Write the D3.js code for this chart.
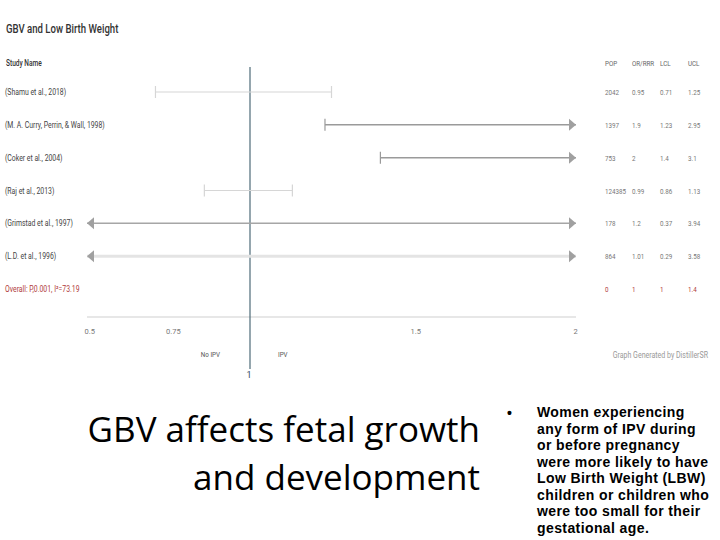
<!DOCTYPE html>
<html><head><meta charset="utf-8">
<script src="https://cdn.jsdelivr.net/npm/d3@7"></script>
<style>
html,body{margin:0;padding:0;background:#fff;}
svg{display:block;}
</style></head>
<body>
<script>
const studies = ["(Shamu et al., 2018)", "(M. A. Curry, Perrin, & Wall, 1998)", "(Coker et al., 2004)", "(Raj et al., 2013)", "(Grimstad et al., 1997)", "(L.D. et al., 1996)", "Overall: P,0.001, I\u00B2=73.19"];
const pop = ["2042", "1397", "753", "124385", "178", "864", "0"];
const orr = [0.95, 1.9, 2, 0.99, 1.2, 1.01, 1];
const lcl = [0.71, 1.23, 1.4, 0.86, 0.37, 0.29, 1];
const ucl = [1.25, 2.95, 3.1, 1.13, 3.94, 3.58, 1.4];
const xTicks = [0.5, 0.75, 1.5, 2];
const tickLabels = ["0.5", "0.75", "1.5", "2"];

const lineShade = ["#d6d6d6", "#9a9a9a", "#9a9a9a", "#d6d6d6", "#a6a6a6", "#e4e4e4", null];
const lineWidth = [1.2, 1.5, 1.5, 1.2, 1.5, 3, 0];

const W = 720, H = 540;
const svg = d3.select("body").append("svg").attr("width", W).attr("height", H);
const font = "Roboto, sans-serif";

const x = d3.scaleLinear().domain([0.5, 2]).range([87, 576]);
const y = d3.scalePoint().domain(d3.range(studies.length)).range([92, 289]);

// narrow text helper: draws text compressed horizontally
function ntext(xp, yp, str, size, fill, opts = {}) {
  const g = svg.append("g").attr("transform", `translate(${xp},${yp}) scale(0.8,1)`);
  const t = g.append("text").attr("x", 0).attr("y", 0).text(str)
    .attr("font-family", font).attr("font-size", size).attr("fill", fill);
  if (opts.anchor) t.attr("text-anchor", opts.anchor);
  if (opts.weight) t.attr("font-weight", opts.weight);
  return t;
}

// Title
ntext(6, 33, "GBV and Low Birth Weight", 12, "#333", {weight: 500});
ntext(6, 66, "Study Name", 8.2, "#333", {weight: 500});

// Column headers
const colX = [605, 632, 660, 688];
["POP", "OR/RRR", "LCL", "UCL"].forEach((h, i) => ntext(colX[i], 66, h, 7.8, "#666"));

// Axis line
svg.append("line").attr("x1", x(0.5)).attr("x2", x(2)).attr("y1", 317).attr("y2", 317)
  .attr("stroke", "#cfcfcf").attr("stroke-width", 1);
const axis = d3.axisBottom(x).tickValues(xTicks).tickSize(0).tickFormat((d, i) => tickLabels[i]);
const ag = svg.append("g").attr("transform", "translate(0,317)").call(axis);
ag.select(".domain").remove();
ag.selectAll(".tick text").attr("font-family", font).attr("font-size", 7.5).attr("fill", "#777")
  .attr("text-anchor", "start").attr("dy", 0).attr("y", 17).attr("x", -3);

// Vertical reference line at 1
svg.append("line").attr("x1", x(1)).attr("x2", x(1)).attr("y1", 67).attr("y2", 369)
  .attr("stroke", "#4d6b78").attr("stroke-width", 1.2);
svg.append("text").attr("x", x(1) - 1).attr("y", 378).attr("text-anchor", "middle").text("1")
  .attr("font-family", font).attr("font-size", 9).attr("fill", "#2f4a66");
ntext(x(1) - 30, 357, "No IPV", 7.8, "#555", {anchor: "end"});
ntext(x(1) + 28, 357, "IPV", 7.8, "#555");
ntext(708, 358, "Graph Generated by DistillerSR", 8.8, "#999", {anchor: "end"});

// Rows
studies.forEach((s, i) => {
  const yy = y(i);
  const isOverall = i === studies.length - 1;
  const col = isOverall ? "#b03a3a" : "#444";
  ntext(5, yy + 3, s, 8.6, col);
  const vals = [pop[i], String(orr[i]), String(lcl[i]), String(ucl[i])];
  vals.forEach((v, j) => ntext(colX[j], yy + 3, v, 7.8, isOverall ? "#b03a3a" : "#777"));
  if (isOverall) return;
  const lo = Math.max(lcl[i], 0.5), hi = Math.min(ucl[i], 2);
  const x1 = x(lo), x2 = x(hi);
  const shade = lineShade[i];
  svg.append("line").attr("x1", x1).attr("x2", x2).attr("y1", yy).attr("y2", yy)
    .attr("stroke", shade).attr("stroke-width", lineWidth[i]);
  const arrowCol = "#a0a0a0";
  if (lcl[i] < 0.5) {
    svg.append("path").attr("d", `M${x1},${yy} L${x1 + 7},${yy - 6} L${x1 + 7},${yy + 6} Z`).attr("fill", arrowCol);
  } else {
    svg.append("line").attr("x1", x1).attr("x2", x1).attr("y1", yy - 6).attr("y2", yy + 6)
      .attr("stroke", shade).attr("stroke-width", 1.2);
  }
  if (ucl[i] > 2) {
    svg.append("path").attr("d", `M${x2},${yy} L${x2 - 7},${yy - 6} L${x2 - 7},${yy + 6} Z`).attr("fill", arrowCol);
  } else {
    svg.append("line").attr("x1", x2).attr("x2", x2).attr("y1", yy - 6).attr("y2", yy + 6)
      .attr("stroke", shade).attr("stroke-width", 1.2);
  }
});

// Slide text
const bigFont = "'Open Sans','Noto Sans',sans-serif";
const big = svg.append("text").attr("font-family", bigFont).attr("font-size", 35).attr("fill", "#000").attr("text-anchor", "end");
big.append("tspan").attr("x", 480).attr("y", 442).text("GBV affects fetal growth");
big.append("tspan").attr("x", 480).attr("y", 490).text("and development");

svg.append("text").attr("x", 507).attr("y", 418).text("\u2022").attr("font-family", "'Liberation Sans',sans-serif").attr("font-size", 14).attr("font-weight", "bold");
const bullet = ["Women experiencing", "any form of IPV during", "or before pregnancy", "were more likely to have", "Low Birth Weight (LBW)", "children or children who", "were too small for their", "gestational age."];
const bt = svg.append("text").attr("font-family", "'Liberation Sans',Arial,sans-serif").attr("font-size", 14).attr("font-weight", "bold").attr("fill", "#000").attr("letter-spacing", 0.4);
bullet.forEach((l, i) => bt.append("tspan").attr("x", 537).attr("y", 417 + i * 16.5).text(l));
</script>
</body></html>
